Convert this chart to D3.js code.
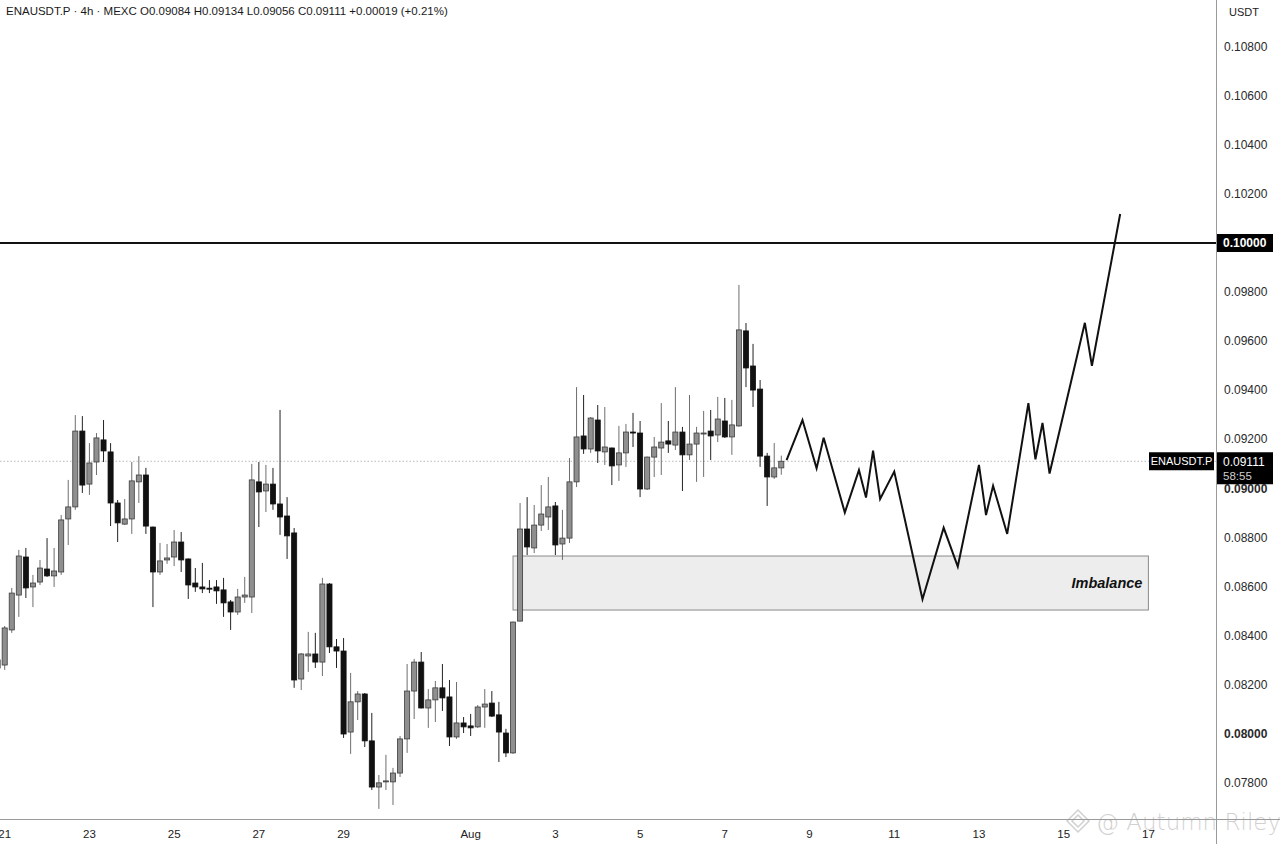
<!DOCTYPE html>
<html>
<head>
<meta charset="utf-8">
<script src="https://cdn.jsdelivr.net/npm/d3@7/dist/d3.min.js"></script>
<style>
  html, body { margin: 0; padding: 0; background: #fff; }
  svg { display: block; font-family: "Liberation Sans", Arial, sans-serif; }
</style>
</head>
<body>
<svg id="chart"></svg>
<script>
// 4h candles, first one starts Jul 20 20:00 (UTC)
const firstCandle = "2024-07-20T20:00:00Z";
const candleHours = 4;

const candleOpen = [
  0.08269, 0.08281, 0.08424, 0.08566, 0.08721, 0.08599, 0.08619, 0.08672, 0.08644, 0.08660,
  0.08876, 0.08925, 0.09234, 0.09018, 0.09108, 0.09198, 0.09149, 0.08941, 0.08855, 0.08876,
  0.09027, 0.09055, 0.08843, 0.08660, 0.08709, 0.08721, 0.08782, 0.08713, 0.08615, 0.08599,
  0.08594, 0.08599, 0.08587, 0.08538, 0.08497, 0.08558, 0.08558, 0.09027, 0.08990, 0.09018,
  0.08937, 0.08888, 0.08819, 0.08224, 0.08318, 0.08326, 0.08293, 0.08611, 0.08355, 0.08338,
  0.08008, 0.08131, 0.08163, 0.07972, 0.07784, 0.07805, 0.07805, 0.07841, 0.07980, 0.08175,
  0.08293, 0.08106, 0.08139, 0.08188, 0.08151, 0.07988, 0.08045, 0.08033, 0.08029, 0.08110,
  0.08126, 0.08078, 0.08004, 0.07923, 0.08460, 0.08835, 0.08758, 0.08851, 0.08884, 0.08929,
  0.08774, 0.08798, 0.09027, 0.09214, 0.09161, 0.09279, 0.09149, 0.09165, 0.09096, 0.09145,
  0.09230, 0.09226, 0.08998, 0.09128, 0.09165, 0.09194, 0.09177, 0.09230, 0.09137, 0.09181,
  0.09222, 0.09234, 0.09218, 0.09275, 0.09210, 0.09255, 0.09642, 0.09499, 0.09405, 0.09132,
  0.09047, 0.09084
];
const candleHigh = [
  0.08322, 0.08440, 0.08595, 0.08750, 0.08758, 0.08648, 0.08709, 0.08798, 0.08758, 0.08892,
  0.09035, 0.09299, 0.09295, 0.09185, 0.09226, 0.09279, 0.09185, 0.08953, 0.08957, 0.09108,
  0.09132, 0.09084, 0.08845, 0.08778, 0.08774, 0.08831, 0.08823, 0.08715, 0.08676, 0.08697,
  0.08627, 0.08627, 0.08636, 0.08546, 0.08591, 0.08640, 0.09100, 0.09108, 0.09096, 0.09084,
  0.09320, 0.08965, 0.08839, 0.08330, 0.08416, 0.08412, 0.08636, 0.08615, 0.08387, 0.08391,
  0.08249, 0.08175, 0.08167, 0.08086, 0.07833, 0.07915, 0.07862, 0.07992, 0.08285, 0.08306,
  0.08334, 0.08183, 0.08216, 0.08285, 0.08220, 0.08212, 0.08069, 0.08082, 0.08118, 0.08183,
  0.08175, 0.08131, 0.08021, 0.08458, 0.08941, 0.08965, 0.08933, 0.09014, 0.09047, 0.08945,
  0.08913, 0.09124, 0.09413, 0.09381, 0.09291, 0.09340, 0.09332, 0.09167, 0.09255, 0.09263,
  0.09308, 0.09275, 0.09130, 0.09210, 0.09348, 0.09275, 0.09413, 0.09251, 0.09381, 0.09251,
  0.09316, 0.09320, 0.09373, 0.09369, 0.09361, 0.09829, 0.09674, 0.09589, 0.09442, 0.09145,
  0.09185, 0.09134
];
const candleLow = [
  0.08232, 0.08261, 0.08412, 0.08477, 0.08554, 0.08517, 0.08607, 0.08640, 0.08599, 0.08648,
  0.08770, 0.08913, 0.08982, 0.08974, 0.09055, 0.09108, 0.08847, 0.08782, 0.08851, 0.08815,
  0.08941, 0.08815, 0.08517, 0.08648, 0.08693, 0.08684, 0.08660, 0.08550, 0.08579, 0.08574,
  0.08574, 0.08530, 0.08477, 0.08424, 0.08485, 0.08534, 0.08493, 0.08843, 0.08904, 0.08913,
  0.08811, 0.08713, 0.08188, 0.08179, 0.08253, 0.08269, 0.08236, 0.08330, 0.08269, 0.07984,
  0.07919, 0.08057, 0.07947, 0.07772, 0.07695, 0.07772, 0.07711, 0.07825, 0.07923, 0.08061,
  0.08104, 0.08025, 0.08049, 0.08094, 0.07951, 0.07980, 0.08004, 0.07992, 0.08025, 0.08025,
  0.08069, 0.07886, 0.07906, 0.07919, 0.08458, 0.08729, 0.08737, 0.08827, 0.08831, 0.08729,
  0.08709, 0.08778, 0.09006, 0.09141, 0.09145, 0.09104, 0.09096, 0.09014, 0.09031, 0.09088,
  0.09169, 0.08965, 0.08994, 0.09047, 0.09055, 0.09145, 0.09157, 0.08990, 0.09116, 0.09027,
  0.09047, 0.09116, 0.09189, 0.09206, 0.09137, 0.09251, 0.09413, 0.09332, 0.09088, 0.08929,
  0.09039, 0.09056
];
const candleClose = [
  0.08302, 0.08432, 0.08574, 0.08725, 0.08595, 0.08615, 0.08676, 0.08644, 0.08664, 0.08872,
  0.08925, 0.09234, 0.09014, 0.09104, 0.09206, 0.09153, 0.08941, 0.08860, 0.08876, 0.09031,
  0.09055, 0.08847, 0.08660, 0.08705, 0.08717, 0.08782, 0.08709, 0.08607, 0.08599, 0.08591,
  0.08592, 0.08583, 0.08534, 0.08497, 0.08558, 0.08566, 0.09035, 0.08986, 0.09018, 0.08937,
  0.08884, 0.08807, 0.08220, 0.08326, 0.08326, 0.08293, 0.08611, 0.08355, 0.08338, 0.08000,
  0.08131, 0.08163, 0.07972, 0.07784, 0.07801, 0.07809, 0.07841, 0.07980, 0.08175, 0.08293,
  0.08106, 0.08139, 0.08188, 0.08147, 0.07988, 0.08045, 0.08029, 0.08025, 0.08110, 0.08122,
  0.08073, 0.08008, 0.07923, 0.08456, 0.08835, 0.08762, 0.08851, 0.08896, 0.08925, 0.08770,
  0.08798, 0.09027, 0.09210, 0.09161, 0.09287, 0.09153, 0.09169, 0.09092, 0.09145, 0.09230,
  0.09226, 0.08998, 0.09128, 0.09169, 0.09189, 0.09181, 0.09230, 0.09137, 0.09181, 0.09226,
  0.09226, 0.09214, 0.09283, 0.09210, 0.09259, 0.09646, 0.09491, 0.09401, 0.09132, 0.09047,
  0.09084, 0.09111
];

// hand drawn projection path
const forecastTimes = [
  "2024-08-08T11:00Z", "2024-08-08T20:00Z", "2024-08-09T04:00Z", "2024-08-09T08:00Z",
  "2024-08-09T20:00Z", "2024-08-10T04:00Z", "2024-08-10T08:00Z", "2024-08-10T12:00Z",
  "2024-08-10T16:00Z", "2024-08-11T00:00Z", "2024-08-11T16:00Z", "2024-08-12T04:00Z",
  "2024-08-12T12:00Z", "2024-08-13T00:00Z", "2024-08-13T04:00Z", "2024-08-13T08:00Z",
  "2024-08-13T16:00Z", "2024-08-14T04:00Z", "2024-08-14T08:00Z", "2024-08-14T12:00Z",
  "2024-08-14T16:00Z", "2024-08-15T12:00Z", "2024-08-15T16:00Z", "2024-08-16T08:00Z"
];
const forecastPrices = [
  0.09116, 0.09279, 0.09082, 0.09207, 0.08902, 0.09075, 0.08963, 0.09154,
  0.08957, 0.09069, 0.08549, 0.08840, 0.08682, 0.09096, 0.08892, 0.09011,
  0.08815, 0.09348, 0.09119, 0.09267, 0.09061, 0.09675, 0.09500, 0.10118
];

// imbalance zone
const zoneTimes = ["2024-08-02T00:00Z", "2024-08-17T00:00Z"];
const zonePrices = [0.08505, 0.08725];

const levelPrice = 0.10000;
const lastPrice = 0.09111;
const countdown = "58:55";

const priceTicks = [0.078, 0.080, 0.082, 0.084, 0.086, 0.088, 0.090, 0.092,
                    0.094, 0.096, 0.098, 0.100, 0.102, 0.104, 0.106, 0.108];
const boldTicks = [0.080, 0.090];
const dateTicks = ["2024-07-21", "2024-07-23", "2024-07-25", "2024-07-27", "2024-07-29",
                   "2024-08-01", "2024-08-03", "2024-08-05", "2024-08-07", "2024-08-09",
                   "2024-08-11", "2024-08-13", "2024-08-15", "2024-08-17"];

const header = "ENAUSDT.P · 4h · MEXC O0.09084 H0.09134 L0.09056 C0.09111 +0.00019 (+0.21%)";

/* ---------------------------
   Layout
--------------------------- */
const width = 1280;
const height = 844;
const plotRight = 1216;
const plotBottom = 819;

const svg = d3.select("#chart")
    .attr("width", width)
    .attr("height", height);

const t0 = new Date(firstCandle).getTime();
const candles = candleOpen.map((o, i) => ({
    t: new Date(t0 + i * candleHours * 3600e3),
    o, h: candleHigh[i], l: candleLow[i], c: candleClose[i]
}));

const hour = 3600e3;
const jul21 = Date.parse("2024-07-21T00:00:00Z");
const x = d3.scaleUtc()
    .domain([new Date(jul21 - 2.66 * hour), new Date(jul21 + 686.3 * hour)])
    .range([0, plotRight]);

const y = d3.scaleLinear()
    .domain([0.076538, 0.109898])
    .range([plotBottom, 0]);

const step = x(new Date(jul21 + candleHours * hour)) - x(new Date(jul21));
const bodyW = step * 0.72;

/* ---------------------------
   Price axis
--------------------------- */
svg.append("line")
    .attr("x1", plotRight + 0.5).attr("x2", plotRight + 0.5)
    .attr("y1", 0).attr("y2", height)
    .attr("stroke", "#9a9a9a");

svg.append("line")
    .attr("x1", 0).attr("x2", width)
    .attr("y1", plotBottom + 0.5).attr("y2", plotBottom + 0.5)
    .attr("stroke", "#9a9a9a");

svg.append("text")
    .attr("x", 1229).attr("y", 16)
    .attr("font-size", "11px").attr("fill", "#222")
    .text("USDT");

svg.append("g").selectAll("text")
    .data(priceTicks)
    .enter()
    .append("text")
    .attr("x", 1224)
    .attr("y", d => y(d) + 4)
    .attr("font-size", "12px")
    .attr("fill", "#2a2a2a")
    .attr("font-weight", d => boldTicks.some(b => Math.abs(b - d) < 1e-9) ? "bold" : "normal")
    .text(d => d.toFixed(5));

/* ---------------------------
   Time axis
--------------------------- */
svg.append("g").selectAll("text")
    .data(dateTicks)
    .enter()
    .append("text")
    .attr("x", d => x(new Date(d + "T00:00:00Z")))
    .attr("y", 838)
    .attr("text-anchor", "middle")
    .attr("font-size", "11.5px")
    .attr("fill", "#222")
    .text(d => {
        const dt = new Date(d + "T00:00:00Z");
        return dt.getUTCDate() === 1 ? d3.utcFormat("%b")(dt) : dt.getUTCDate();
    });

/* ---------------------------
   Imbalance zone
--------------------------- */
const zx0 = x(new Date(zoneTimes[0])), zx1 = x(new Date(zoneTimes[1]));
svg.append("rect")
    .attr("x", zx0)
    .attr("y", y(zonePrices[1]))
    .attr("width", zx1 - zx0)
    .attr("height", y(zonePrices[0]) - y(zonePrices[1]))
    .attr("fill", "#ededed")
    .attr("stroke", "#8a8a8a")
    .attr("stroke-width", 1);

svg.append("text")
    .attr("x", zx1 - 6)
    .attr("y", (y(zonePrices[0]) + y(zonePrices[1])) / 2 + 5)
    .attr("text-anchor", "end")
    .attr("font-size", "14.5px")
    .attr("font-weight", "bold")
    .attr("font-style", "italic")
    .attr("fill", "#111")
    .text("Imbalance");

/* ---------------------------
   Lines: last price + 0.10 level
--------------------------- */
svg.append("line")
    .attr("x1", 0).attr("x2", plotRight)
    .attr("y1", y(lastPrice)).attr("y2", y(lastPrice))
    .attr("stroke", "#b8b8b8")
    .attr("stroke-dasharray", "1.5,2");

svg.append("line")
    .attr("x1", 0).attr("x2", plotRight)
    .attr("y1", y(levelPrice)).attr("y2", y(levelPrice))
    .attr("stroke", "#111")
    .attr("stroke-width", 2);

/* ---------------------------
   Candles
--------------------------- */
const candle = svg.append("g").selectAll("g")
    .data(candles)
    .enter()
    .append("g");

candle.append("line")
    .attr("x1", d => x(d.t)).attr("x2", d => x(d.t))
    .attr("y1", d => y(d.h)).attr("y2", d => y(d.l))
    .attr("stroke", d => d.c >= d.o ? "#6e6e6e" : "#222")
    .attr("stroke-width", 1);

candle.append("rect")
    .attr("x", d => x(d.t) - bodyW / 2)
    .attr("y", d => y(Math.max(d.o, d.c)))
    .attr("width", bodyW)
    .attr("height", d => Math.max(1, Math.abs(y(d.o) - y(d.c))))
    .attr("fill", d => d.c >= d.o ? "#8f8f8f" : "#111")
    .attr("stroke", d => d.c >= d.o ? "#3c3c3c" : "#111")
    .attr("stroke-width", 0.8);

/* ---------------------------
   Projection path
--------------------------- */
const pathPts = forecastTimes.map((t, i) => [x(new Date(t)), y(forecastPrices[i])]);
svg.append("path")
    .attr("d", d3.line()(pathPts))
    .attr("fill", "none")
    .attr("stroke", "#111")
    .attr("stroke-width", 2)
    .attr("stroke-linejoin", "miter");

/* ---------------------------
   Price labels on the axis
--------------------------- */
const lvl = svg.append("g");
lvl.append("rect")
    .attr("x", plotRight + 1).attr("y", y(levelPrice) - 9)
    .attr("width", 56).attr("height", 18)
    .attr("fill", "#000");
lvl.append("text")
    .attr("x", plotRight + 7).attr("y", y(levelPrice) + 4.5)
    .attr("font-size", "12px").attr("font-weight", "bold").attr("fill", "#fff")
    .text(levelPrice.toFixed(5));

const lp = svg.append("g");
lp.append("rect")
    .attr("x", 1149).attr("y", y(lastPrice) - 9)
    .attr("width", 65).attr("height", 18)
    .attr("fill", "#000");
lp.append("text")
    .attr("x", 1181.5).attr("y", y(lastPrice) + 4)
    .attr("text-anchor", "middle")
    .attr("font-size", "11px").attr("fill", "#fff")
    .text("ENAUSDT.P");
lp.append("rect")
    .attr("x", plotRight + 1).attr("y", y(lastPrice) - 9)
    .attr("width", 56).attr("height", 32)
    .attr("fill", "#000");
lp.append("text")
    .attr("x", plotRight + 7).attr("y", y(lastPrice) + 4.5)
    .attr("font-size", "12px").attr("fill", "#fff")
    .text(lastPrice.toFixed(5));
lp.append("text")
    .attr("x", plotRight + 7).attr("y", y(lastPrice) + 18.5)
    .attr("font-size", "11.5px").attr("fill", "#cfcfcf")
    .text(countdown);

/* ---------------------------
   Header + watermark
--------------------------- */
svg.append("text")
    .attr("x", 6).attr("y", 15)
    .attr("font-size", "11.5px")
    .attr("fill", "#1a1a1a")
    .text(header);

const wm = svg.append("g").attr("opacity", 0.45);
wm.append("path")
    .attr("d", "M1078,810 L1089,821 L1078,832 L1067,821 Z M1078,815 L1084,821 L1078,827 L1072,821 Z")
    .attr("fill", "none")
    .attr("stroke", "#9a9a9a")
    .attr("stroke-width", 1.5);
wm.append("text")
    .attr("x", 1096).attr("y", 830)
    .attr("font-size", "23px")
    .attr("font-family", "'DejaVu Sans', sans-serif")
    .attr("font-weight", 200)
    .attr("fill", "#9a9a9a")
    .text("@ Autumn Riley");
</script>
</body>
</html>
